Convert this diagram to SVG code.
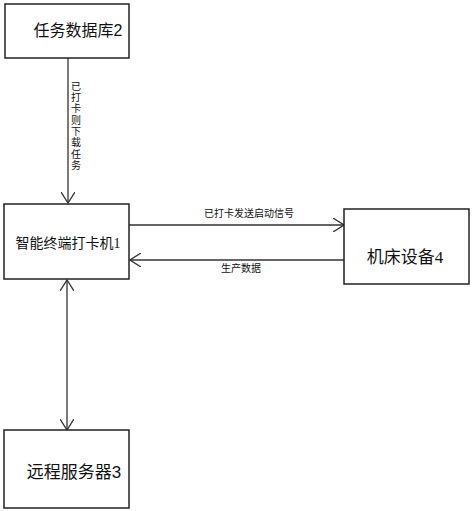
<svg xmlns="http://www.w3.org/2000/svg" width="474" height="511" viewBox="0 0 474 511">
<defs>
<style>
.box{fill:#fff;stroke:#222;stroke-width:1.5}
.ln{stroke:#333;stroke-width:1.3;fill:none}
.sans{font-family:"Liberation Sans","Noto Sans CJK SC",sans-serif;fill:#111}
.serif{font-family:"Liberation Serif","Noto Sans CJK SC",serif;fill:#111}
.lbl{font-family:"Liberation Sans","Noto Sans CJK SC",sans-serif;fill:#111;font-size:10px}
</style>
<marker id="ah" viewBox="0 0 12 14" refX="11" refY="7" markerWidth="12" markerHeight="14" markerUnits="userSpaceOnUse" orient="auto-start-reverse">
<path d="M0,0 L11,7 L0,14" fill="none" stroke="#333" stroke-width="1.3"/>
</marker>
</defs>
<rect width="474" height="511" fill="#fff"/>
<g id="connectors">
<line class="ln" x1="68" y1="58" x2="68" y2="203" marker-end="url(#ah)"/>
<line class="ln" x1="129" y1="225" x2="344" y2="225" marker-end="url(#ah)"/>
<line class="ln" x1="344" y1="260" x2="130" y2="260" marker-end="url(#ah)"/>
<line class="ln" x1="67" y1="280" x2="67" y2="430" marker-start="url(#ah)" marker-end="url(#ah)"/>
<g class="lbl" text-anchor="middle" font-size="9.5">
<text x="76" y="90">已</text>
<text x="76" y="101">打</text>
<text x="76" y="112">卡</text>
<text x="76" y="124">则</text>
<text x="76" y="135">下</text>
<text x="76" y="146">载</text>
<text x="76" y="158">任</text>
<text x="76" y="169">务</text>
</g>
<text class="lbl" x="249" y="217" text-anchor="middle">已打卡发送启动信号</text>
<text class="lbl" x="241" y="272" text-anchor="middle">生产数据</text>
</g>
<g id="node2">
<rect class="box" x="5" y="4" width="124" height="54"/>
<text class="sans" x="78" y="36" font-size="16" text-anchor="middle">任务数据库2</text>
</g>
<g id="node1">
<rect class="box" x="4" y="204" width="125" height="75"/>
<text class="serif" x="68" y="248" font-size="14" text-anchor="middle">智能终端打卡机1</text>
</g>
<g id="node4">
<rect class="box" x="344" y="209" width="125" height="75"/>
<text class="serif" x="405" y="263" font-size="17" text-anchor="middle">机床设备4</text>
</g>
<g id="node3">
<rect class="box" x="4" y="430" width="125" height="78"/>
<text class="sans" x="74" y="478" font-size="17" text-anchor="middle">远程服务器3</text>
</g>
</svg>
